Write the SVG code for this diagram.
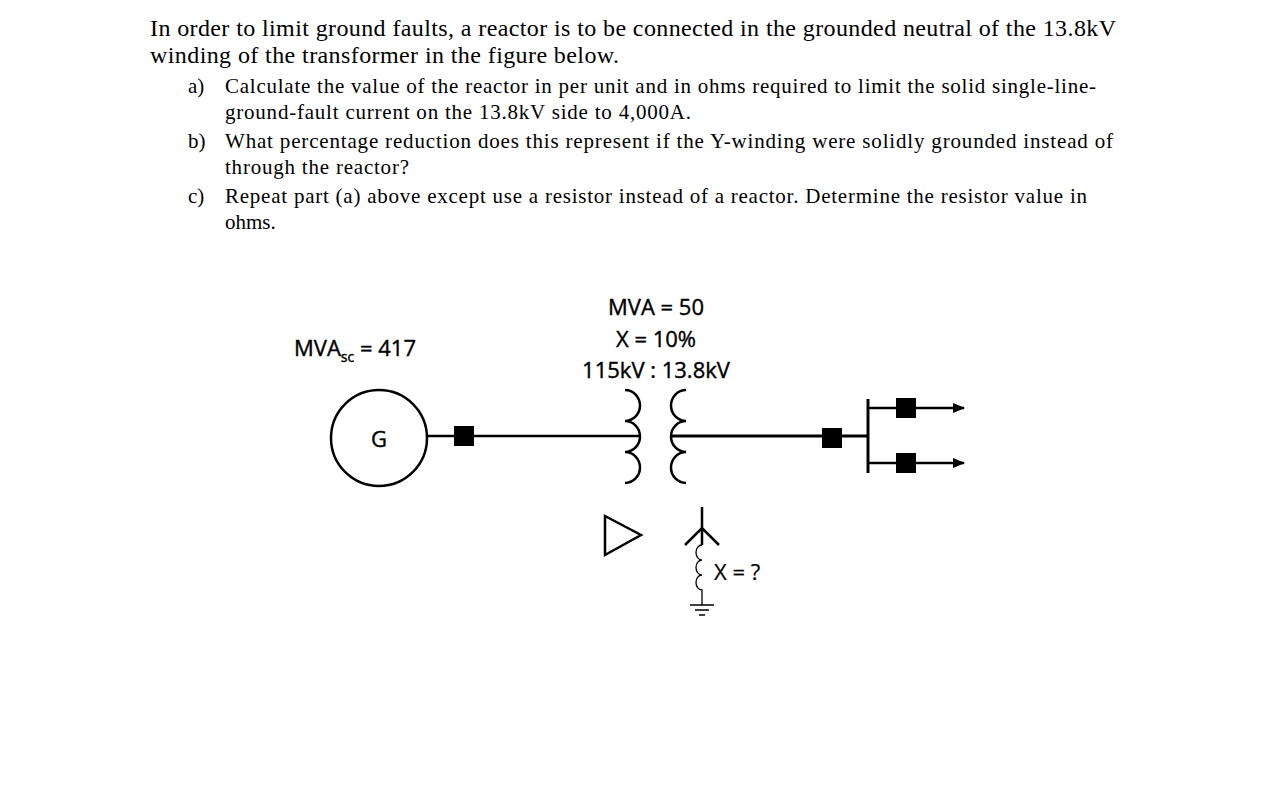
<svg xmlns="http://www.w3.org/2000/svg" width="1275" height="811" viewBox="0 0 1275 811">
<style>
.q{font-family:"Liberation Serif",serif;fill:#000}
.l{font-family:"Open Sans","Liberation Sans",sans-serif;font-size:22px;fill:#000;stroke:#000;stroke-width:0.4}
.w{fill:none;stroke:#000;stroke-width:2.5}
.t{fill:none;stroke:#000;stroke-width:1.3}
</style>
<defs><marker id="a" markerWidth="12" markerHeight="10" refX="11" refY="5" orient="auto" markerUnits="userSpaceOnUse"><path d="M0,0L12,5L0,10z" fill="#000"/></marker></defs>
<rect width="1275" height="811" fill="#fff"/>
<g id="question" class="q">
<text x="150" y="36" font-size="24" textLength="966" lengthAdjust="spacing">In order to limit ground faults, a reactor is to be connected in the grounded neutral of the 13.8kV</text>
<text x="150" y="63" font-size="24" textLength="469" lengthAdjust="spacing">winding of the transformer in the figure below.</text>
<g font-size="21">
<text x="188" y="93">a)</text><text x="225" y="93" textLength="871" lengthAdjust="spacing">Calculate the value of the reactor in per unit and in ohms required to limit the solid single-line-</text>
<text x="225" y="119" textLength="466" lengthAdjust="spacing">ground-fault current on the 13.8kV side to 4,000A.</text>
<text x="188" y="148">b)</text><text x="225" y="148" textLength="888" lengthAdjust="spacing">What percentage reduction does this represent if the Y-winding were solidly grounded instead of</text>
<text x="225" y="174" textLength="184" lengthAdjust="spacing">through the reactor?</text>
<text x="188" y="203">c)</text><text x="225" y="203" textLength="862" lengthAdjust="spacing">Repeat part (a) above except use a resistor instead of a reactor. Determine the resistor value in</text>
<text x="225" y="229">ohms.</text>
</g></g>
<g id="labels">
<text class="l" x="294" y="356">MVA<tspan font-size="14" dy="6">sc</tspan><tspan dy="-6"> = 417</tspan></text>
<text class="l" x="656" y="315" text-anchor="middle">MVA = 50</text>
<text class="l" x="656" y="347" text-anchor="middle">X = 10%</text>
<text class="l" x="656" y="378" text-anchor="middle">115kV : 13.8kV</text>
<text class="l" x="714" y="580" font-size="19" style="stroke-width:0.2">X = ?</text>
</g>
<g id="generator"><circle class="w" cx="379" cy="438" r="48"/><text class="l" x="379" y="447" text-anchor="middle" font-size="27">G</text></g>
<g id="transformer">
<path class="w" d="M625,390 a15,15.5 0 0 1 0,31 a15,15.5 0 0 1 0,31 a15,15.5 0 0 1 0,31"/>
<path class="w" d="M686,390 a15,15.5 0 0 0 0,31 a15,15.5 0 0 0 0,31 a15,15.5 0 0 0 0,31"/>
</g>
<g id="delta"><path class="w" d="M605,516L641,535L605,555z"/></g>
<g id="wye-ground">
<path class="w" d="M702,507V545M685,545L702,528L719,545"/>
<path class="t" d="M702,545 a6,7.5 0 0 0 0,15 a6,7.5 0 0 0 0,15 a6,7.5 0 0 0 0,15V605M690,605H714M695,610H709M699,615H705"/>
</g>
<g id="connectors">
<path class="w" d="M428,436H640"/>
<path d="M671,436H868" fill="none" stroke="#000" stroke-width="3"/>
<path d="M868,399V473" fill="none" stroke="#000" stroke-width="3"/>
<path class="w" d="M868,408H964" marker-end="url(#a)"/>
<path class="w" d="M868,463H964" marker-end="url(#a)"/>
</g>
<g id="breakers" fill="#000">
<rect x="454" y="426" width="20" height="20"/>
<rect x="822" y="428" width="20" height="20"/>
<rect x="896" y="398" width="20" height="20"/>
<rect x="896" y="453" width="20" height="20"/>
</g>
</svg>
